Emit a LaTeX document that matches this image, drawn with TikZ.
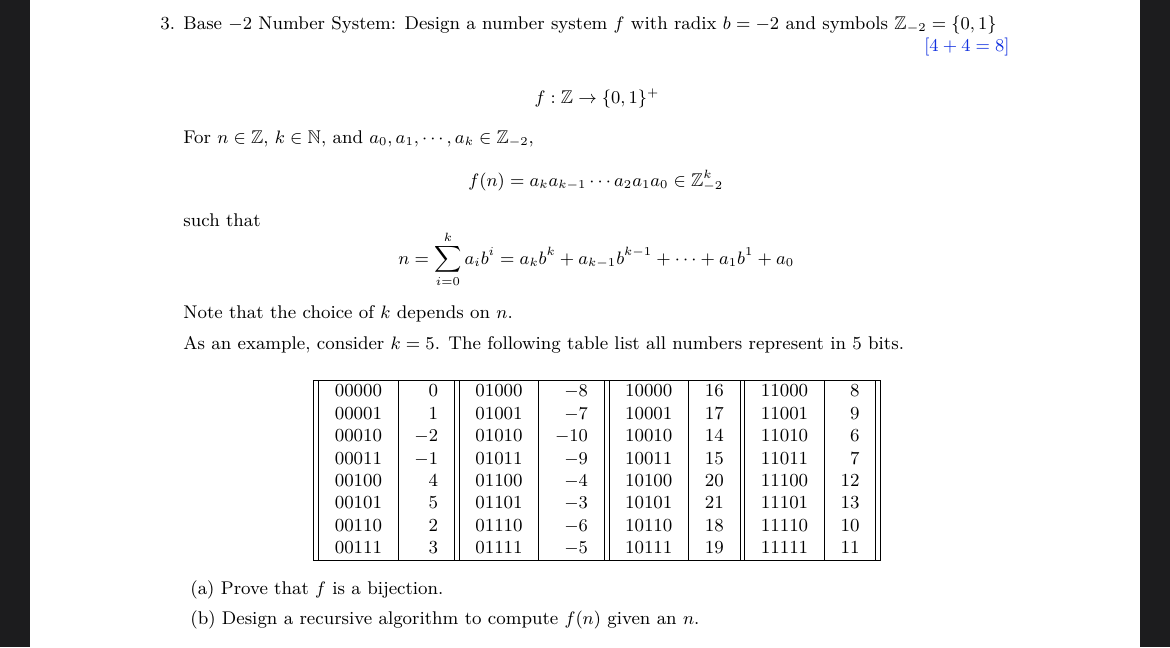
\documentclass[tikz,border=0pt]{standalone}
\usepackage{amssymb}
\usepackage{array}
\begin{document}
\begin{tikzpicture}[x=0.5pt,y=-0.5pt,
  txt/.style={anchor=base west,inner sep=0pt,font=\fontsize{9.2}{11.2}\selectfont}]
\definecolor{barblack}{HTML}{1C1C1E}
\definecolor{markblue}{HTML}{1030E0}
\useasboundingbox (0,0) rectangle (1170,647);
\fill[white] (0,0) rectangle (1170,647);
\fill[barblack] (0,0) rectangle (30,647);
\fill[barblack] (1140,0) rectangle (1170,647);
\node[txt] (num) at (160,30) {3.};
\node[txt] (title) at (183,30) {Base $-2$ Number System: Design a number system $f$ with radix $b=-2$ and symbols $\mathbb{Z}_{-2}=\{0,1\}$};
\node[txt,anchor=base east,text=markblue] (marks) at (1010,52) {$[4+4=8]$};
\node[txt,anchor=base] (map) at (597,104) {$f:\mathbb{Z}\rightarrow\{0,1\}^+$};
\node[txt] (for) at (183,143) {For $n\in\mathbb{Z}$, $k\in\mathbb{N}$, and $a_0,a_1,\cdots,a_k\in\mathbb{Z}_{-2}$,};
\node[txt] (fn) at (468,186) {$f(n)=a_ka_{k-1}\cdots a_2a_1a_0\in\mathbb{Z}^k_{-2}$};
\node[txt] (such) at (183,226) {such that};
\node[txt] (sum) at (398,264) {$\displaystyle n=\sum_{i=0}^{k}a_ib^i=a_kb^k+a_{k-1}b^{k-1}+\cdots+a_1b^1+a_0$};
\node[txt] (note) at (183,318) {Note that the choice of $k$ depends on $n$.};
\node[txt] (ex) at (183,349) {As an example, consider $k=5$. The following table list all numbers represent in 5 bits.};
\node[anchor=north west,inner sep=0pt,font=\fontsize{9.2}{11.2}\selectfont] (tab) at (313,380) {%
\setlength{\tabcolsep}{7.9pt}%
\begin{tabular}{||r|r||r|r||c|c||r|r||}
\hline
00000 & 0 & 01000 & $-8$ & 10000 & 16 & 11000 & 8\\
00001 & 1 & 01001 & $-7$ & 10001 & 17 & 11001 & 9\\
00010 & $-2$ & 01010 & $-10$ & 10010 & 14 & 11010 & 6\\
00011 & $-1$ & 01011 & $-9$ & 10011 & 15 & 11011 & 7\\
00100 & 4 & 01100 & $-4$ & 10100 & 20 & 11100 & 12\\
00101 & 5 & 01101 & $-3$ & 10101 & 21 & 11101 & 13\\
00110 & 2 & 01110 & $-6$ & 10110 & 18 & 11110 & 10\\
00111 & 3 & 01111 & $-5$ & 10111 & 19 & 11111 & 11\\
\hline
\end{tabular}};
\node[txt] (pa) at (190,594) {(a) Prove that $f$ is a bijection.};
\node[txt] (pb) at (190,624) {(b) Design a recursive algorithm to compute $f(n)$ given an $n$.};
\end{tikzpicture}
\end{document}
